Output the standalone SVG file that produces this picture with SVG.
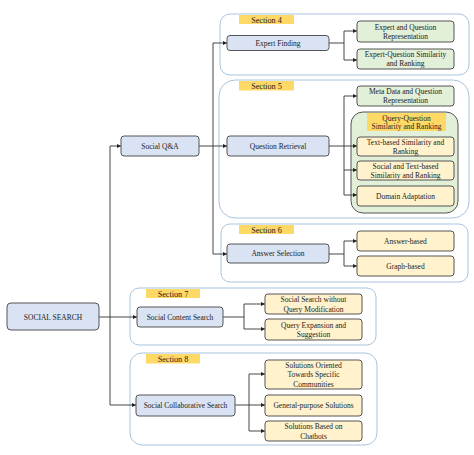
<svg xmlns="http://www.w3.org/2000/svg" width="474" height="455" viewBox="0 0 474 455">
<defs>
<marker id="arr" viewBox="0 0 6 6" refX="6" refY="3" markerWidth="4" markerHeight="4" orient="auto" markerUnits="userSpaceOnUse">
<path d="M0,0 L6,3 L0,6 z" fill="#222"/>
</marker>
<style>
.cont{fill:#ffffff;stroke:#a9c4de;stroke-width:1}
.sec{fill:#ffd966;stroke:none}
.blue{fill:#dae3f3;stroke:#555555;stroke-width:1}
.green{fill:#e2efd9;stroke:#555555;stroke-width:1}
.yellow{fill:#fff2cc;stroke:#555555;stroke-width:1}
.inner{fill:#e2efd9;stroke:#555555;stroke-width:1}
text{font-family:"Liberation Serif","Times New Roman",serif;font-size:7.5px;fill:#222;text-anchor:middle}
.st{font-size:8.2px}
.ln{fill:none;stroke:#333;stroke-width:0.9}
</style>
</defs>
<rect width="474" height="455" fill="#ffffff"/>

<!-- containers -->
<g id="section4">
<rect class="cont" x="220" y="14" width="249" height="61" rx="10"/>
<rect class="sec" x="239" y="15" width="55" height="9"/>
<text class="st" x="266.5" y="22.5">Section 4</text>
</g>
<g id="section5">
<rect class="cont" x="219" y="80" width="250" height="138" rx="16"/>
<rect class="sec" x="239" y="81" width="55" height="9.5"/>
<text class="st" x="266.5" y="88.8">Section 5</text>
<rect class="inner" x="351" y="112" width="107" height="101" rx="12"/>
<rect class="sec" x="367" y="113" width="79" height="18"/>
<text x="406.5" y="120.5">Query-Question</text>
<text x="406.5" y="129">Similarity  and Ranking</text>
</g>
<g id="section6">
<rect class="cont" x="221" y="224" width="247" height="58" rx="9"/>
<rect class="sec" x="239" y="225" width="55" height="9"/>
<text class="st" x="266.5" y="232.5">Section 6</text>
</g>
<g id="section7">
<rect class="cont" x="130" y="288" width="246" height="57" rx="9"/>
<rect class="sec" x="146" y="289" width="54" height="9"/>
<text class="st" x="173" y="296.5">Section 7</text>
</g>
<g id="section8">
<rect class="cont" x="130" y="353" width="247" height="92" rx="12"/>
<rect class="sec" x="146" y="354" width="54" height="9.5"/>
<text class="st" x="173" y="361.8">Section 8</text>
</g>

<!-- connectors -->
<g id="connectors">
<path class="ln" d="M99,317 L137,317" marker-end="url(#arr)"/>
<path class="ln" d="M110,146 L110,405"/>
<path class="ln" d="M110,146 L121,146" marker-end="url(#arr)"/>
<path class="ln" d="M110,405 L136,405" marker-end="url(#arr)"/>
<path class="ln" d="M199,146 L213,146"/>
<path class="ln" d="M213,43 L213,254"/>
<path class="ln" d="M213,43 L227,43" marker-end="url(#arr)"/>
<path class="ln" d="M213,146 L227,146" marker-end="url(#arr)"/>
<path class="ln" d="M213,254 L227,254" marker-end="url(#arr)"/>
<path class="ln" d="M329,43 L344,43"/>
<path class="ln" d="M344,31 L344,60"/>
<path class="ln" d="M344,31 L357,31" marker-end="url(#arr)"/>
<path class="ln" d="M344,60 L357,60" marker-end="url(#arr)"/>
<path class="ln" d="M329,146 L344,146"/>
<path class="ln" d="M344,96 L344,195"/>
<path class="ln" d="M344,96 L357,96" marker-end="url(#arr)"/>
<path class="ln" d="M344,146 L357,146" marker-end="url(#arr)"/>
<path class="ln" d="M344,170 L357,170" marker-end="url(#arr)"/>
<path class="ln" d="M344,195 L357,195" marker-end="url(#arr)"/>
<path class="ln" d="M329,254 L344,254"/>
<path class="ln" d="M344,241 L344,266"/>
<path class="ln" d="M344,241 L357,241" marker-end="url(#arr)"/>
<path class="ln" d="M344,266 L357,266" marker-end="url(#arr)"/>
<path class="ln" d="M223,317 L244,317"/>
<path class="ln" d="M244,304 L244,329"/>
<path class="ln" d="M244,304 L265,304" marker-end="url(#arr)"/>
<path class="ln" d="M244,329 L265,329" marker-end="url(#arr)"/>
<path class="ln" d="M235,405 L249,405"/>
<path class="ln" d="M249,374 L249,431"/>
<path class="ln" d="M249,374 L265,374" marker-end="url(#arr)"/>
<path class="ln" d="M249,405 L265,405" marker-end="url(#arr)"/>
<path class="ln" d="M249,431 L265,431" marker-end="url(#arr)"/>
</g>

<!-- nodes -->
<g id="social-search">
<rect class="blue" x="7" y="303" width="92" height="27" rx="4"/>
<text x="53" y="319.5">SOCIAL SEARCH</text>
</g>
<g id="social-qa">
<rect class="blue" x="121" y="136" width="78" height="20" rx="3"/>
<text x="160" y="148.5">Social Q&amp;A</text>
</g>
<g id="expert-finding">
<rect class="blue" x="227" y="35.5" width="102" height="15" rx="3"/>
<text x="278" y="45.5">Expert  Finding</text>
</g>
<g id="expert-question-rep">
<rect class="green" x="357" y="21" width="97" height="21" rx="3"/>
<text x="405.5" y="29.5">Expert and Question</text>
<text x="405.5" y="38.5">Representation</text>
</g>
<g id="expert-question-sim">
<rect class="green" x="357" y="49" width="97" height="20" rx="3"/>
<text x="405.5" y="57">Expert-Question Similarity</text>
<text x="405.5" y="66">and Ranking</text>
</g>
<g id="question-retrieval">
<rect class="blue" x="227" y="136" width="102" height="20" rx="3"/>
<text x="278" y="148.5">Question  Retrieval</text>
</g>
<g id="meta-data">
<rect class="green" x="357" y="86" width="97" height="20" rx="3"/>
<text x="405.5" y="94">Meta Data and Question</text>
<text x="405.5" y="103">Representation</text>
</g>
<g id="text-based">
<rect class="yellow" x="357" y="137" width="97" height="19" rx="3"/>
<text x="405.5" y="144.5">Text-based Similarity  and</text>
<text x="405.5" y="153.5">Ranking</text>
</g>
<g id="social-text-based">
<rect class="yellow" x="357" y="161" width="97" height="19" rx="3"/>
<text x="405.5" y="168.5">Social and Text-based</text>
<text x="405.5" y="177.5">Similarity  and Ranking</text>
</g>
<g id="domain-adaptation">
<rect class="yellow" x="357" y="186" width="97" height="20" rx="3"/>
<text x="405.5" y="198.5">Domain Adaptation</text>
</g>
<g id="answer-selection">
<rect class="blue" x="227" y="244" width="102" height="19" rx="3"/>
<text x="278" y="256">Answer  Selection</text>
</g>
<g id="answer-based">
<rect class="yellow" x="357" y="231" width="97" height="20" rx="3"/>
<text x="405.5" y="243.5">Answer-based</text>
</g>
<g id="graph-based">
<rect class="yellow" x="357" y="256" width="97" height="20" rx="3"/>
<text x="405.5" y="268.5">Graph-based</text>
</g>
<g id="social-content-search">
<rect class="blue" x="137" y="307" width="86" height="20" rx="3"/>
<text x="180" y="319.5">Social  Content  Search</text>
</g>
<g id="no-query-mod">
<rect class="yellow" x="265" y="294" width="97" height="20" rx="3"/>
<text x="313.5" y="302">Social Search  without</text>
<text x="313.5" y="311.5">Query  Modification</text>
</g>
<g id="query-expansion">
<rect class="yellow" x="265" y="319" width="97" height="21" rx="3"/>
<text x="313.5" y="327.5">Query  Expansion  and</text>
<text x="313.5" y="337">Suggestion</text>
</g>
<g id="social-collab-search">
<rect class="blue" x="136" y="395" width="99" height="21" rx="3"/>
<text x="185.5" y="408">Social  Collaborative  Search</text>
</g>
<g id="specific-communities">
<rect class="yellow" x="265" y="360" width="97" height="29" rx="3"/>
<text x="313.5" y="367.5">Solutions  Oriented</text>
<text x="313.5" y="377">Towards  Specific</text>
<text x="313.5" y="386.5">Communities</text>
</g>
<g id="general-purpose">
<rect class="yellow" x="265" y="395" width="97" height="21" rx="3"/>
<text x="313.5" y="408">General-purpose  Solutions</text>
</g>
<g id="chatbots">
<rect class="yellow" x="265" y="421" width="97" height="20" rx="3"/>
<text x="313.5" y="429">Solutions  Based  on</text>
<text x="313.5" y="438.5">Chatbots</text>
</g>
</svg>
